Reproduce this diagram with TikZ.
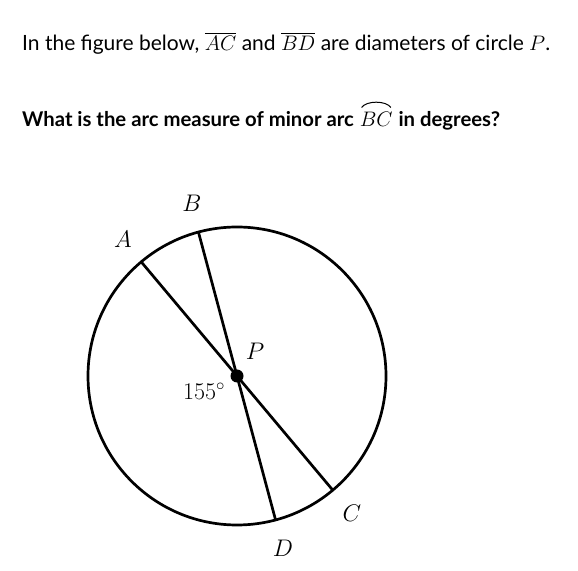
\documentclass[tikz,border=0pt]{standalone}
\usepackage{fix-cm}
\usepackage{fontspec}
\setmainfont{Lato}
\usepackage{amsmath}
\usetikzlibrary{calc}
\begin{document}
\begin{tikzpicture}[x=1pt,y=1pt,
  txt/.style={inner sep=0pt, anchor=base west, font=\fontsize{21}{24}\selectfont},
  btxt/.style={txt, font=\fontsize{20.3}{24}\selectfont\bfseries},
  lbl/.style={inner sep=0pt, font=\fontsize{24}{28}\selectfont},
  geo/.style={line width=2.7pt, black}]
\useasboundingbox[fill=white] (0,0) rectangle (578,570);
% question text
\node[txt] (l1) at (22,519) {In the figure below, $\overline{AC}$ and $\overline{BD}$ are diameters of circle $P$.};
\node[btxt] (q1) at (22,443) {What is the arc measure of minor arc};
\node[txt] (bc) at ([xshift=5.5pt]q1.base east) {$BC$};
\node[btxt] (q3) at ([xshift=5.5pt]bc.base east) {in degrees?};
\draw[line width=1pt] ([shift={(2pt,5pt)}]bc.north west) .. controls +(5,7) and +(-5,7) .. ([shift={(-2pt,5pt)}]bc.north east);
% figure
\coordinate (P) at (237,194);
\draw[geo] (P) circle[radius=149];
\coordinate (A) at ($(P)+(130:149)$);
\coordinate (B) at ($(P)+(105:149)$);
\coordinate (C) at ($(P)+(310:149)$);
\coordinate (D) at ($(P)+(285:149)$);
\draw[geo] (A) -- (C);
\draw[geo] (B) -- (D);
\fill (P) circle[radius=6.5];
\node[lbl] (lB) at (192,367) {$B$};
\node[lbl] (lA) at (123,331) {$A$};
\node[lbl] (lP) at (255,219) {$P$};
\node[lbl] (l155) at (204,179) {$155^\circ$};
\node[lbl] (lC) at (352,57) {$C$};
\node[lbl] (lD) at (283,22) {$D$};
\end{tikzpicture}
\end{document}
